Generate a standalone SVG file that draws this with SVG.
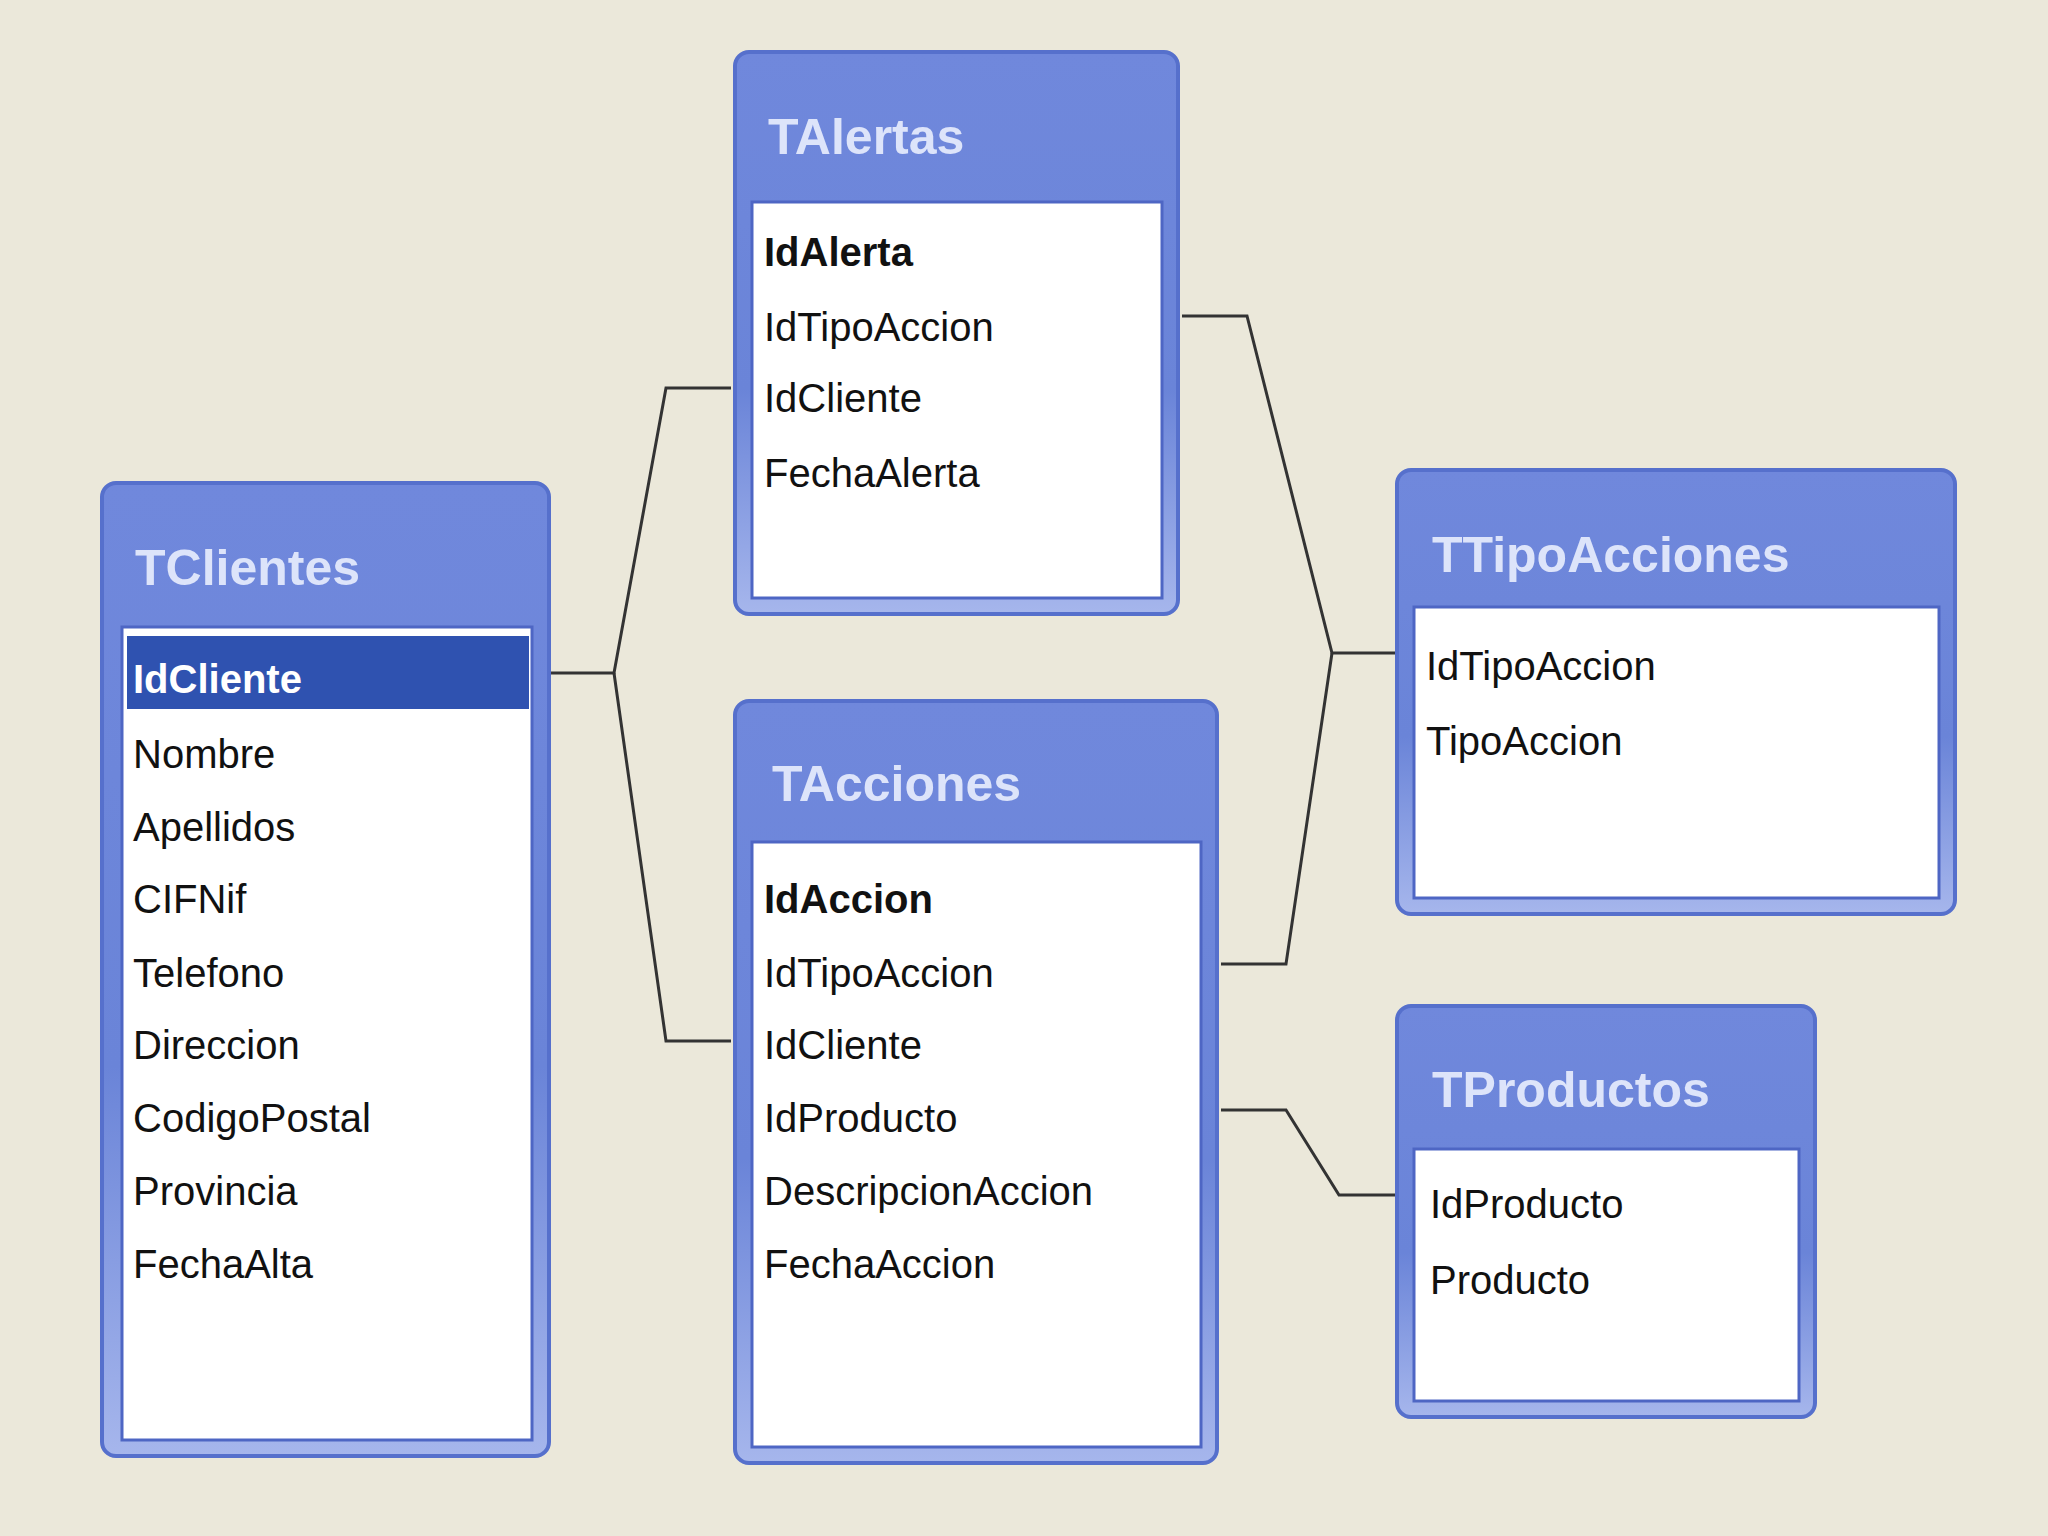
<svg xmlns="http://www.w3.org/2000/svg" width="2048" height="1536" viewBox="0 0 2048 1536">
<defs>
<linearGradient id="hg" x1="0" y1="0" x2="0" y2="1">
<stop offset="0" stop-color="#7088dc"/><stop offset="0.6" stop-color="#6a84d8"/><stop offset="1" stop-color="#a6b6ec"/>
</linearGradient>
<style>
.frame{fill:url(#hg);stroke:#5670cc;stroke-width:4}
.body{fill:#ffffff;stroke:#4e66c4;stroke-width:3}
.title{font-family:"Liberation Sans",Arial,sans-serif;font-size:50px;font-weight:bold;fill:#dde4fa}
.f{font-family:"Liberation Sans",Arial,sans-serif;font-size:40px;fill:#111}
.pk{font-weight:bold}
.c{fill:none;stroke:#333;stroke-width:3}
</style>
</defs>
<rect width="2048" height="1536" fill="#ebe8da"/>
<g id="connectors">
<polyline class="c" points="549,673 614,673 666,388 731,388"/>
<polyline class="c" points="614,673 666,1041 731,1041"/>
<polyline class="c" points="1182,316 1247,316 1332,653 1395,653"/>
<polyline class="c" points="1221,964 1286,964 1332,653"/>
<polyline class="c" points="1221,1110 1286,1110 1339,1195 1395,1195"/>
</g>
<g id="TClientes">
<rect class="frame" x="102" y="483" width="447" height="973" rx="14"/>
<rect class="body" x="122" y="627" width="410" height="813"/>
<text class="title" x="135" y="585">TClientes</text>
<rect x="127" y="636" width="402" height="73" fill="#2f52b0"/>
<text class="f pk" x="133" y="693" style="fill:#fff">IdCliente</text>
<text class="f" x="133" y="768">Nombre</text>
<text class="f" x="133" y="841">Apellidos</text>
<text class="f" x="133" y="913">CIFNif</text>
<text class="f" x="133" y="987">Telefono</text>
<text class="f" x="133" y="1059">Direccion</text>
<text class="f" x="133" y="1132">CodigoPostal</text>
<text class="f" x="133" y="1205">Provincia</text>
<text class="f" x="133" y="1278">FechaAlta</text>
</g>
<g id="TAlertas">
<rect class="frame" x="735" y="52" width="443" height="562" rx="14"/>
<rect class="body" x="752" y="202" width="410" height="396"/>
<text class="title" x="768" y="154">TAlertas</text>
<text class="f pk" x="764" y="266">IdAlerta</text>
<text class="f" x="764" y="341">IdTipoAccion</text>
<text class="f" x="764" y="412">IdCliente</text>
<text class="f" x="764" y="487">FechaAlerta</text>
</g>
<g id="TAcciones">
<rect class="frame" x="735" y="701" width="482" height="762" rx="14"/>
<rect class="body" x="752" y="842" width="449" height="605"/>
<text class="title" x="772" y="801">TAcciones</text>
<text class="f pk" x="764" y="913">IdAccion</text>
<text class="f" x="764" y="987">IdTipoAccion</text>
<text class="f" x="764" y="1059">IdCliente</text>
<text class="f" x="764" y="1132">IdProducto</text>
<text class="f" x="764" y="1205">DescripcionAccion</text>
<text class="f" x="764" y="1278">FechaAccion</text>
</g>
<g id="TTipoAcciones">
<rect class="frame" x="1397" y="470" width="558" height="444" rx="14"/>
<rect class="body" x="1414" y="607" width="525" height="291"/>
<text class="title" x="1432" y="572">TTipoAcciones</text>
<text class="f" x="1426" y="680">IdTipoAccion</text>
<text class="f" x="1426" y="755">TipoAccion</text>
</g>
<g id="TProductos">
<rect class="frame" x="1397" y="1006" width="418" height="411" rx="14"/>
<rect class="body" x="1414" y="1149" width="385" height="252"/>
<text class="title" x="1432" y="1107">TProductos</text>
<text class="f" x="1430" y="1218">IdProducto</text>
<text class="f" x="1430" y="1294">Producto</text>
</g>
</svg>
